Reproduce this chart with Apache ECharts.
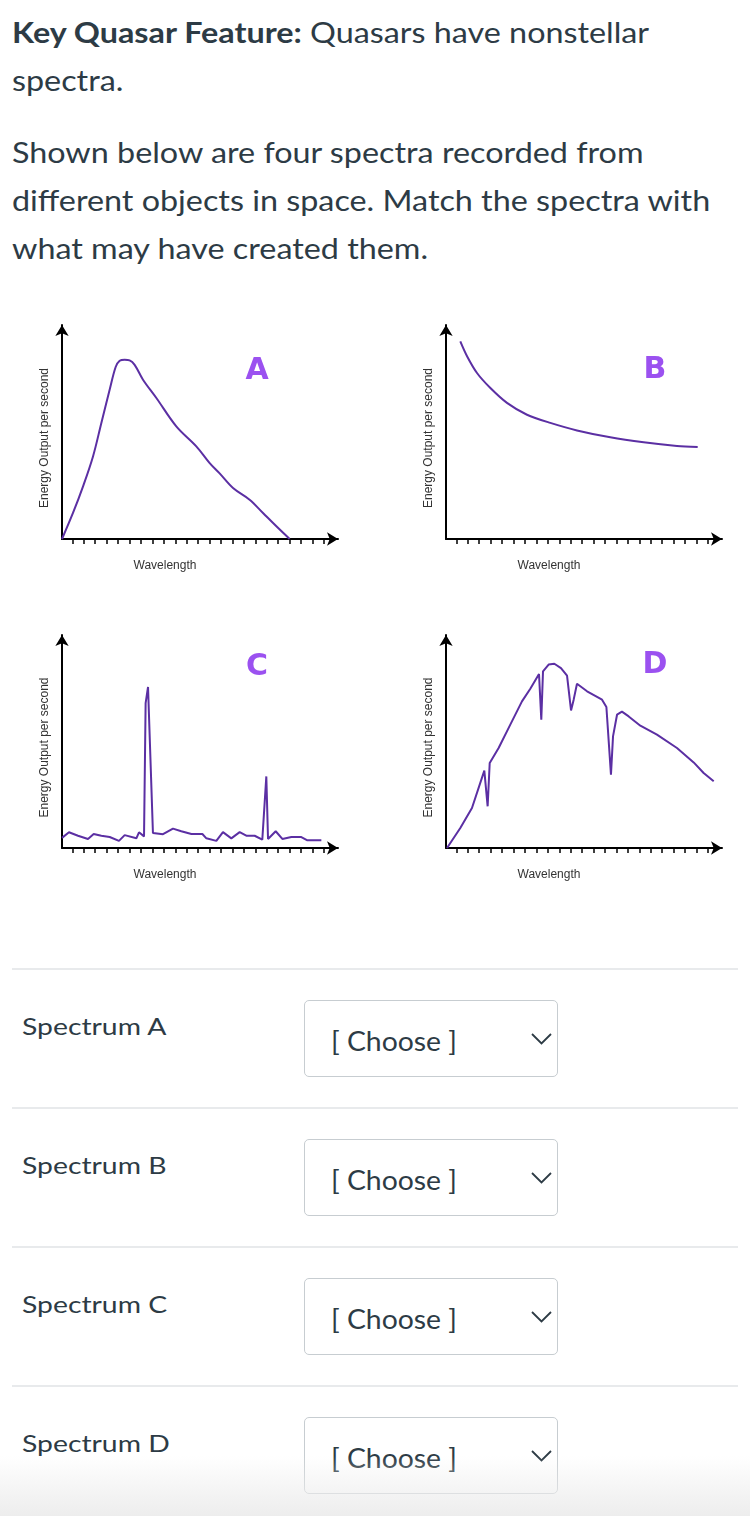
<!DOCTYPE html>
<html>
<head>
<meta charset="utf-8">
<script src="https://cdn.jsdelivr.net/npm/echarts@6/dist/echarts.min.js"></script>
<style>
  html, body { margin: 0; padding: 0; background: #fff; }
  body { width: 750px; height: 1516px; position: relative; overflow: hidden; font-family: Lato, "Noto Sans", sans-serif; color: #2d3b45; }
  .prose { position: absolute; left: 12px; font-size: 28px; line-height: 48px; white-space: nowrap; transform: scaleX(1.154); transform-origin: 0 0; }
  .rule { position: absolute; left: 12px; width: 726px; height: 2px; background: #e8eaec; }
  .lbl { position: absolute; left: 22px; font-size: 24px; line-height: 24px; white-space: nowrap; transform: scaleX(1.18); transform-origin: 0 0; }
  .sel { position: absolute; left: 304px; width: 252px; height: 75px; border: 1px solid #c7cdd1; border-radius: 5px; background: #fff; }
  .sel span { position: absolute; left: 26px; font-size: 26px; line-height: 26px; white-space: nowrap; transform: scaleX(1.09); transform-origin: 0 0; }
  .sel svg { position: absolute; left: 226px; }
  #fade { position: absolute; left: 0; top: 1456px; width: 750px; height: 60px; background: linear-gradient(to bottom, rgba(238,238,238,0), rgba(236,236,236,0.95)); pointer-events: none; }
</style>
</head>
<body>
<div class="prose" style="top:8px"><b>Key Quasar Feature:</b> Quasars have nonstellar<br>spectra.</div>
<div class="prose" style="top:128px">Shown below are four spectra recorded from<br>different objects in space. Match the spectra with<br>what may have created them.</div>
<div id="chart" style="position:absolute;left:0;top:300px;width:750px;height:600px;"></div>
<div id="rows"></div>
<div id="fade"></div>
<script>
// ---- data (x: wavelength in tick units, y: energy output, 0..~99) ----
const spectrumA = [[0,0],[0.96,12.1],[1.84,24.5],[2.71,38.4],[3.44,54.0],[4.17,69.5],[4.69,80.0],[5.04,82.9],[5.48,83.4],[5.91,83.1],[6.35,81.0],[7.08,74.1],[8.25,65.6],[9.99,52.4],[11.74,43.1],[12.91,35.3],[13.78,30.5],[14.95,23.7],[16.40,18.3],[17.57,12.1],[18.74,5.9],[19.90,0]];
const spectrumB = [[1.25,91.9],[1.84,85.0],[2.71,77.2],[3.88,70.2],[5.33,63.3],[7.08,57.8],[9.12,54.0],[11.45,50.5],[14.36,47.3],[17.28,45.0],[20.19,43.3],[22.00,42.8]];
const spectrumC = [[0,4.7],[0.61,7.3],[1.40,5.7],[2.27,4.2],[2.77,6.5],[3.44,5.7],[4.17,5.1],[4.98,3.3],[5.48,6.0],[6.50,4.5],[6.73,7.3],[7.17,5.4],[7.31,67.4],[7.52,74.9],[7.95,7.0],[8.83,6.4],[9.70,9.0],[10.43,7.8],[11.31,6.5],[12.27,6.5],[12.62,4.5],[13.49,3.3],[14.07,7.4],[14.80,4.5],[15.53,7.4],[16.11,5.7],[16.84,5.7],[17.51,3.9],[17.86,33.3],[18.01,4.2],[18.68,7.8],[19.26,4.2],[20.05,5.1],[20.92,5.1],[21.45,3.6],[22.67,3.6]];
const spectrumD = [[0.09,0],[1.25,9.3],[2.27,18.6],[3.35,36.0],[3.64,19.4],[3.82,39.5],[4.60,46.5],[5.62,57.4],[6.64,68.2],[7.37,74.1],[8.13,80.9],[8.33,59.7],[8.48,82.2],[8.97,85.3],[9.47,85.7],[10.05,83.7],[10.58,80.2],[10.93,64.0],[11.16,69.0],[11.45,76.4],[12.33,72.9],[13.64,69.0],[14.02,65.6],[14.42,34.1],[14.60,51.9],[14.95,62.0],[15.38,63.4],[15.97,61.2],[16.99,56.9],[18.44,52.7],[20.19,46.5],[21.65,39.8],[22.52,34.9],[23.40,31.0]];
const tickValues = [0.9,1.9,2.9,3.9,4.9,5.9,6.9,7.9,8.9,9.9,10.9,11.9,12.9,13.9,14.9,15.9,16.9,17.9,18.9,19.9,20.9,21.9,22.9];
const panelLetters = ['A','B','C','D'];
const xAxisName = 'Wavelength';
const yAxisName = 'Energy Output per second';
const rowLabels = ['Spectrum A','Spectrum B','Spectrum C','Spectrum D'];
const chooseText = '[ Choose ]';

// ---- layout ----
const grids = [
  {left: 62, top: 25, width: 276, height: 214},
  {left: 446, top: 25, width: 276, height: 214},
  {left: 62, top: 335, width: 276, height: 213},
  {left: 446, top: 335, width: 276, height: 213}
];
const letterPos = [[257, 71], [655, 70], [257, 367], [655, 365]];
const seriesData = [spectrumA, spectrumB, spectrumC, spectrumD];
const smoothing = [0.35, 0.3, false, false];

const axisLine = {show: true, onZero: false, symbol: ['none', 'arrow'], symbolSize: [10, 11], lineStyle: {color: '#000', width: 2}};
const nameStyle = {fontFamily: '"Liberation Sans", Arial, sans-serif', fontSize: 12, color: '#333'};

const option = {
  animation: false,
  grid: grids.map(g => Object.assign({containLabel: false}, g)),
  xAxis: grids.map((g, i) => ({
    gridIndex: i, type: 'value', min: 0, max: g.width / 11.44,
    axisLine: axisLine,
    axisTick: {show: true, customValues: tickValues, length: 5, lineStyle: {color: '#000', width: 1.5}},
    axisLabel: {show: false}, splitLine: {show: false},
    name: xAxisName, nameLocation: 'middle', nameGap: 21,
    nameTextStyle: Object.assign({padding: [0, 70, 0, 0]}, nameStyle)
  })),
  yAxis: grids.map((g, i) => ({
    gridIndex: i, type: 'value', min: 0, max: g.height / 2.15,
    axisLine: axisLine,
    axisTick: {show: false}, axisLabel: {show: false}, splitLine: {show: false},
    name: yAxisName, nameLocation: 'middle', nameGap: 11.5,
    nameTextStyle: Object.assign({padding: [0, 12, 0, 0]}, nameStyle)
  })),
  series: seriesData.map((d, i) => ({
    type: 'line', xAxisIndex: i, yAxisIndex: i, data: d,
    showSymbol: false, symbol: 'none', smooth: smoothing[i],
    lineStyle: {color: '#5b2fa3', width: 2}
  })),
  graphic: panelLetters.map((t, i) => ({
    type: 'text', x: letterPos[i][0], y: letterPos[i][1],
    style: {text: t, fill: '#9b51f0', font: 'bold 30px "DejaVu Sans", sans-serif', align: 'center', verticalAlign: 'middle'}
  }))
};
const chart = echarts.init(document.getElementById('chart'), null, {renderer: 'canvas'});
chart.setOption(option);

// ---- form rows ----
const rowsEl = document.getElementById('rows');
const ruleTops = [968, 1107, 1246, 1385];
rowLabels.forEach((lab, i) => {
  const base = ruleTops[i];
  const rule = document.createElement('div');
  rule.className = 'rule'; rule.style.top = base + 'px';
  rowsEl.appendChild(rule);
  const l = document.createElement('div');
  l.className = 'lbl'; l.style.top = (base + 46) + 'px'; l.textContent = lab;
  rowsEl.appendChild(l);
  const s = document.createElement('div');
  s.className = 'sel'; s.style.top = (base + 32) + 'px';
  s.innerHTML = '<span style="top:27px">' + chooseText + '</span>' +
    '<svg width="22" height="14" style="top:31px"><polyline points="1,2 10.5,11.5 20,2" fill="none" stroke="#2d3b45" stroke-width="1.8"/></svg>';
  rowsEl.appendChild(s);
});
</script>
</body>
</html>
